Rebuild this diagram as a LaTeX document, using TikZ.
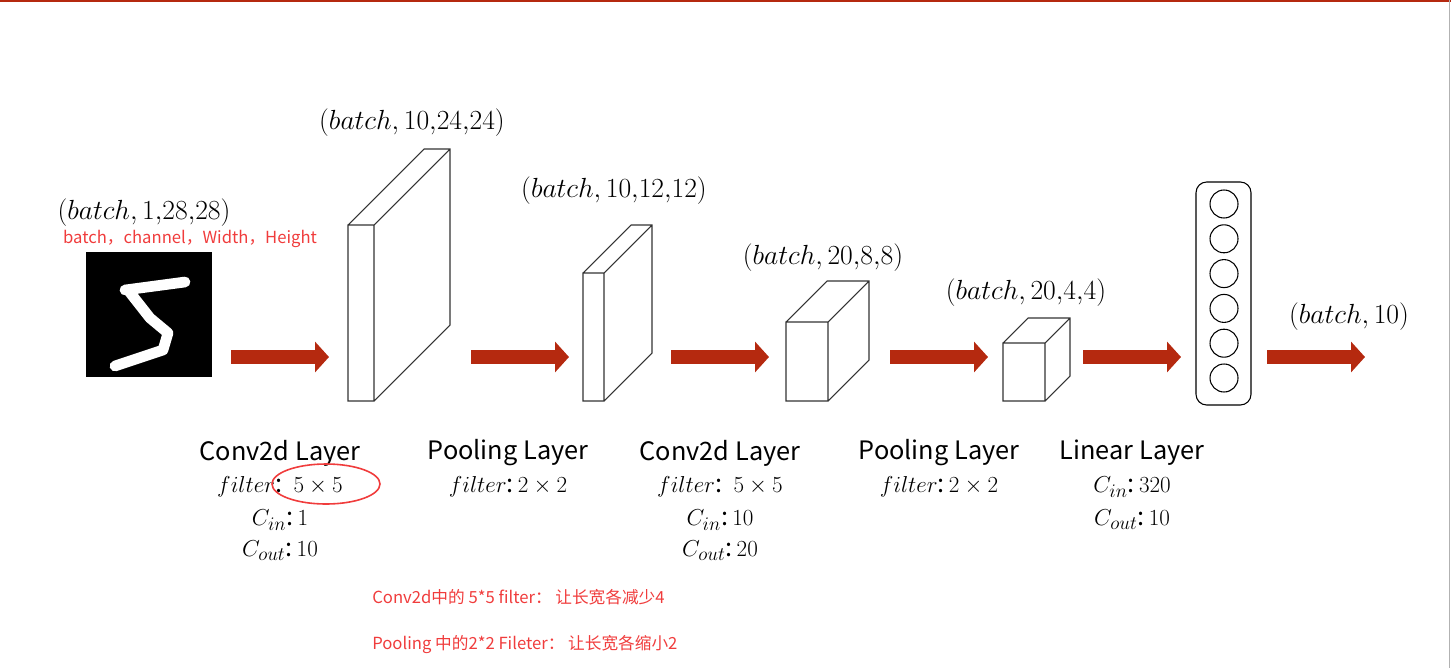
\documentclass[tikz,border=0pt]{standalone}
\usepackage{fontspec}
\setmainfont{Noto Sans CJK SC}
\usetikzlibrary{arrows.meta}
\definecolor{arrowred}{HTML}{B5290F}
\definecolor{notered}{HTML}{F03C3C}
\tikzset{
  flow/.style={arrowred, line width=10.5pt, -{Triangle[length=10.5pt, width=22.5pt]}},
  dims/.style={font=\fontsize{19.5}{22}\selectfont, inner sep=0pt},
  layer/.style={font=\fontsize{19}{22}\selectfont, inner sep=0pt},
  param/.style={font=\fontsize{19}{22}\selectfont, inner sep=0pt},
  note/.style={notered, font=\fontsize{12.5}{15}\selectfont, inner sep=0pt},
}
% block: front lower-left (x,y), width w, height h, depth d
\newcommand{\featbox}[5]{%
  \draw[line width=0.8pt, black!80, fill=white]
    (#1,#2) rectangle ++(#3,-#4)
    (#1,#2-#4) -- ++(#5,-#5) -- ++(#3,0) -- ++(0,#4) -- ++(-#5,#5)
    (#1+#3,#2-#4) -- ++(#5,-#5);}
\begin{document}
\begin{tikzpicture}[x=0.75pt, y=-0.75pt]
\useasboundingbox (0,0) rectangle (1451,668);
\draw[arrowred, line width=1pt] (0,1) -- (1451,1);
\draw[black!30] (1449,0) -- (1449,668);
% input digit
\fill[black] (86,252) rectangle (212,377);
\draw[white, line width=8pt, line cap=round, line join=round]
  (125,290) -- (185,282) (128,290) -- (150,318) -- (168,333) -- (163,350) -- (115,366);
% feature maps
\featbox{348}{401}{26}{176}{76}
\featbox{583}{401}{21}{128}{48}
\featbox{786}{401}{42}{79}{41}
\featbox{1003}{401}{42}{58}{25}
% linear layer
\draw[line width=0.8pt, rounded corners=8pt] (1196,182) rectangle (1251,405);
\foreach \k in {0,...,5}
  \draw[line width=0.8pt] (1224,204+34.8*\k) circle[radius=14];
% arrows
\coordinate (a1s) at (231,357); \coordinate (a1e) at (329,357);
\coordinate (a2s) at (471,357); \coordinate (a2e) at (569,357);
\coordinate (a3s) at (671,357); \coordinate (a3e) at (769,357);
\coordinate (a4s) at (890,357); \coordinate (a4e) at (988,357);
\coordinate (a5s) at (1083,357); \coordinate (a5e) at (1181,357);
\coordinate (a6s) at (1267,357); \coordinate (a6e) at (1365,357);
\foreach \i in {1,...,6} \draw[flow] (a\i s) -- (a\i e);
% shapes
\node[dims] (s0) at (144,213) {$(batch,1{,}28{,}28)$};
\node[note] (s0n) at (190,239) {batch，channel，Width，Height};
\node[dims] (s1) at (412,123) {$(batch,10{,}24{,}24)$};
\node[dims] (s2) at (614,191) {$(batch,10{,}12{,}12)$};
\node[dims] (s3) at (823,258) {$(batch,20{,}8{,}8)$};
\node[dims] (s4) at (1026,293) {$(batch,20{,}4{,}4)$};
\node[dims] (s5) at (1349,317) {$(batch,10)$};
% layers
\node[layer] (l1) at (280,453) {Conv2d Layer};
\node[param] at (280,487) {$filter$:\ \ $5\times5$};
\node[param] at (280,520) {$C_{in}$:\,$1$};
\node[param] at (280,551) {$C_{out}$:\,$10$};
\node[layer] (l2) at (508,453) {Pooling Layer};
\node[param] at (508,487) {$filter$:\,$2\times2$};
\node[layer] (l3) at (720,453) {Conv2d Layer};
\node[param] at (720,487) {$filter$:\ \ $5\times5$};
\node[param] at (720,520) {$C_{in}$:\,$10$};
\node[param] at (720,551) {$C_{out}$:\,$20$};
\node[layer] (l4) at (939,453) {Pooling Layer};
\node[param] at (939,487) {$filter$:\,$2\times2$};
\node[layer] (l5) at (1132,453) {Linear Layer};
\node[param] at (1132,487) {$C_{in}$:\,$320$};
\node[param] at (1132,520) {$C_{out}$:\,$10$};
\draw[notered, line width=1.2pt] (326,484) ellipse[x radius=54, y radius=20];
% notes
\node[note, anchor=west] (n1) at (372,597) {Conv2d中的 5*5 filter：\ 让长宽各减少4};
\node[note, anchor=west] (n2) at (372,644) {Pooling 中的2*2 Fileter：\ 让长宽各缩小2};
\end{tikzpicture}
\end{document}
